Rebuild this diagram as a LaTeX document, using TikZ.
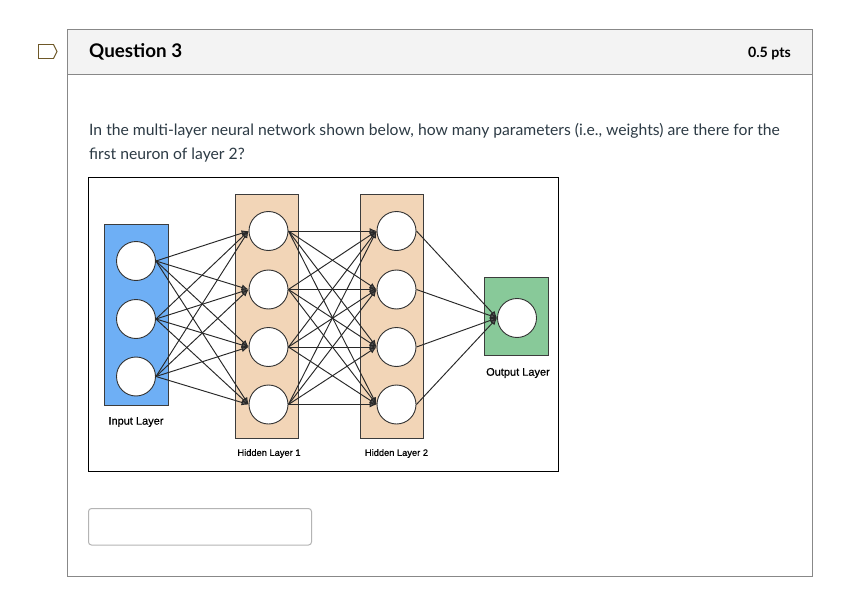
\documentclass[tikz,border=0pt]{standalone}
\usepackage{fontspec}
\setmainfont{Lato}
\newfontfamily\arialf[FakeBold=0.6]{Liberation Sans}
\usetikzlibrary{arrows.meta}
\definecolor{cardborder}{RGB}{136,136,136}
\definecolor{headfill}{RGB}{243,243,243}
\definecolor{flagcol}{RGB}{110,88,40}
\definecolor{inblue}{RGB}{110,175,245}
\definecolor{hidtan}{RGB}{242,213,183}
\definecolor{outgreen}{RGB}{136,201,153}
\definecolor{edgecol}{RGB}{40,40,40}
\definecolor{tipcol}{RGB}{85,85,85}
\definecolor{txtcol}{RGB}{45,59,69}
\definecolor{boxborder}{RGB}{180,180,180}
\tikzset{
  layerbox/.style={draw={rgb,255:red,60;green,60;blue,60}, line width=0.9pt},
  neuron/.style={circle, draw={rgb,255:red,50;green,50;blue,50}, fill=white, line width=0.9pt, minimum size=39pt, inner sep=0pt},
  wedge/.style={draw=edgecol, line width=0.95pt, -{Latex[length=7pt,width=6pt,fill=tipcol]}},
  layerlabel/.style={font=\arialf, text=black, inner sep=0pt},
}
\begin{document}
\begin{tikzpicture}[x=1pt,y=-1pt]
\useasboundingbox (0,0) rectangle (849,607);
\fill[white] (0,0) rectangle (849,607);
% card
\fill[headfill] (67,30) rectangle (812,75);
\draw[cardborder, line width=1pt] (67,30) rectangle (812,576);
\draw[cardborder, line width=1pt] (67,75) -- (812,75);
% flag
\draw[flagcol, line width=0.9pt] (38.5,44.5) -- (53.5,44.5) -- (57,51.5) -- (53.5,58.5) -- (38.5,58.5) -- cycle;
\node[anchor=base west, inner sep=0pt, text=black, font=\fontsize{18.8}{21}\selectfont\bfseries] (qtitle) at (89,58) {Question 3};
\node[anchor=base east, inner sep=0pt, text=black, font=\fontsize{14.2}{17}\selectfont\bfseries] (pts) at (791,58) {0.5 pts};
\node[anchor=base west, inner sep=0pt, text=txtcol, font=\fontsize{15.7}{18}\selectfont] (line1) at (89,135.5) {In the multi-layer neural network shown below, how many parameters (i.e., weights) are there for the};
\node[anchor=base west, inner sep=0pt, text=txtcol, font=\fontsize{15.7}{18}\selectfont] (line2) at (89,159.5) {first neuron of layer 2?};
% diagram frame
\draw[black, line width=1pt] (88.5,177.5) rectangle (558.5,471);
% layer boxes
\filldraw[layerbox, fill=inblue] (104,224.5) rectangle (168,405);
\filldraw[layerbox, fill=hidtan] (235,194) rectangle (298.5,438.5);
\filldraw[layerbox, fill=hidtan] (360,194) rectangle (423.5,438.5);
\filldraw[layerbox, fill=outgreen] (484.5,277) rectangle (548.5,355.5);
% neurons
\node[neuron] (i1) at (136,261) {};
\node[neuron] (i2) at (136,319) {};
\node[neuron] (i3) at (136,376.5) {};
\node[neuron] (a1) at (268.5,231) {};
\node[neuron] (a2) at (268.5,289.5) {};
\node[neuron] (a3) at (268.5,347) {};
\node[neuron] (a4) at (268.5,404.5) {};
\node[neuron] (b1) at (396.5,231) {};
\node[neuron] (b2) at (396.5,289.5) {};
\node[neuron] (b3) at (396.5,347) {};
\node[neuron] (b4) at (396.5,404.5) {};
\node[neuron] (o1) at (517,318) {};
% edges
\foreach \s in {i1,i2,i3}{\foreach \t in {a1,a2,a3,a4}{\draw[wedge] (\s.east) -- (\t.west);}}
\foreach \s in {a1,a2,a3,a4}{\foreach \t in {b1,b2,b3,b4}{\draw[wedge] (\s.east) -- (\t.west);}}
\foreach \s in {b1,b2,b3,b4}{\draw[wedge] (\s.east) -- (o1.west);}
% labels
\node[layerlabel, font=\arialf\fontsize{11}{13}\selectfont] (linput) at (136,422) {Input Layer};
\node[layerlabel, font=\arialf\fontsize{9.3}{11}\selectfont] (lh1) at (269,453.5) {Hidden Layer 1};
\node[layerlabel, font=\arialf\fontsize{9.3}{11}\selectfont] (lh2) at (396.5,453.5) {Hidden Layer 2};
\node[layerlabel, font=\arialf\fontsize{11}{13}\selectfont] (lout) at (518,373) {Output Layer};
% answer box
\draw[boxborder, line width=1pt, rounded corners=3pt] (88.5,508.5) rectangle (311.5,545);
\end{tikzpicture}
\end{document}
